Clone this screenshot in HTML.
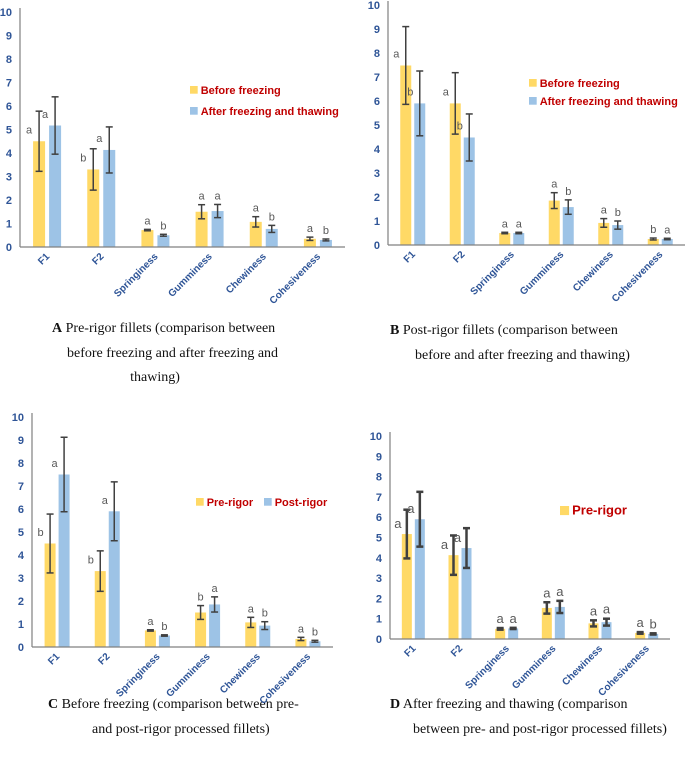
<!DOCTYPE html>
<html><head><meta charset="utf-8">
<style>
body{margin:0;background:#fff;width:685px;height:767px;overflow:hidden}
svg{display:block}
.cap{font-family:"Liberation Serif",serif;font-size:14px;fill:#111}
</style></head>
<body>
<svg id="fig" width="685" height="767" viewBox="0 0 685 767">
<g>
<text class="cap" x="52" y="332"><tspan font-weight="bold">A</tspan> Pre-rigor fillets (comparison between</text>
<text class="cap" x="67" y="357">before freezing and after freezing and</text>
<text class="cap" x="155" y="381" text-anchor="middle">thawing)</text>
</g>
<g>
<text class="cap" x="390" y="334"><tspan font-weight="bold">B</tspan> Post-rigor fillets (comparison between</text>
<text class="cap" x="415" y="359">before and after freezing and thawing)</text>
</g>
<g>
<text class="cap" x="48" y="708"><tspan font-weight="bold">C</tspan> Before freezing (comparison between pre-</text>
<text class="cap" x="92" y="733">and post-rigor processed fillets)</text>
</g>
<g>
<text class="cap" x="390" y="708"><tspan font-weight="bold">D</tspan> After freezing and thawing (comparison</text>
<text class="cap" x="413" y="733">between pre- and post-rigor processed fillets)</text>
</g>
</svg>
<script>
const categories = ["F1","F2","Springiness","Gumminess","Chewiness","Cohesiveness"];
const yTicks = [0,1,2,3,4,5,6,7,8,9,10];

const aYellow = [4.5,3.3,0.72,1.5,1.07,0.35];
const aYellowErr = [1.28,0.88,0.03,0.3,0.22,0.07];
const aBlue = [5.17,4.13,0.5,1.53,0.77,0.3];
const aBlueErr = [1.22,0.98,0.04,0.28,0.15,0.04];
const aYellowLet = ["a","b","a","a","a","a"];
const aBlueLet = ["a","a","b","a","b","b"];

const bYellow = [7.48,5.9,0.5,1.85,0.92,0.25];
const bYellowErr = [1.62,1.28,0.03,0.33,0.18,0.04];
const bBlue = [5.9,4.48,0.5,1.58,0.83,0.25];
const bBlueErr = [1.35,0.98,0.03,0.3,0.17,0.03];
const bYellowLet = ["a","a","a","a","a","b"];
const bBlueLet = ["b","b","a","b","b","a"];

const cYellow = [4.5,3.3,0.72,1.5,1.07,0.35];
const cYellowErr = [1.28,0.88,0.03,0.3,0.22,0.07];
const cBlue = [7.5,5.9,0.5,1.85,0.93,0.25];
const cBlueErr = [1.62,1.28,0.03,0.33,0.17,0.04];
const cYellowLet = ["b","b","a","b","a","a"];
const cBlueLet = ["a","a","b","a","b","b"];

const dYellow = [5.17,4.13,0.5,1.53,0.77,0.3];
const dYellowErr = [1.2,0.97,0.04,0.28,0.15,0.04];
const dBlue = [5.9,4.48,0.52,1.58,0.83,0.25];
const dBlueErr = [1.35,0.98,0.03,0.3,0.17,0.03];
const dYellowLet = ["a","a","a","a","a","a"];
const dBlueLet = ["a","a","a","a","a","b"];

const NS="http://www.w3.org/2000/svg";
const svg=document.getElementById('fig');
function mk(tag,attrs,parent){const e=document.createElementNS(NS,tag);for(const k in attrs)e.setAttribute(k,attrs[k]);parent.appendChild(e);return e;}

function panel(p){
  const g=mk('g',{},svg);
  
  
  const y=v=>p.y0-(p.y0-p.y10)*v/10;
  const band=(p.xEnd-p.ax)/categories.length;
  const cx=i=>p.ax+band*(i+0.5);
  const ya=mk('line',{x1:p.ax,y1:p.y10-4,x2:p.ax,y2:p.y0,stroke:'#808080','stroke-width':1.2},g);
  
  
  yTicks.forEach(t=>{
    const tx=mk('text',{x:p.ax-8,y:y(t)+4,'text-anchor':'end','font-family':'Liberation Sans, sans-serif','font-size':p.fs,'font-weight':'bold',fill:'#2F5597'},g);
    tx.textContent=t;
    
    
  });
  const series=[[p.yv,p.ye,p.yl,'#FFD966',-1],[p.bv,p.be,p.bl,'#9DC3E6',1]];
  categories.forEach((c,i)=>{
    series.forEach(([vals,errs,lets,col,side],si)=>{
      const v=vals[i],e=errs[i];
      const left = side<0 ? cx(i)-p.gap/2-p.bw : cx(i)+p.gap/2;
      const r=mk('rect',{x:left,y:y(v),width:p.bw,height:p.y0-y(v),fill:col},g);
      
      
      const mx=left+p.bw/2;
      const eg=mk('g',{stroke:'#404040','stroke-width':p.ew},g);
      
      
      mk('line',{x1:mx,x2:mx,y1:y(v+e),y2:y(v-e)},eg);
      mk('line',{x1:mx-3.5,x2:mx+3.5,y1:y(v+e),y2:y(v+e)},eg);
      mk('line',{x1:mx-3.5,x2:mx+3.5,y1:y(v-e),y2:y(v-e)},eg);
      let lx,ly;
      if(i<2){lx=left-4;ly=y(v+0.5)+4;}
      else{lx=mx;ly=y(v+e)-5;}
      const lt=mk('text',{x:lx,y:ly,'text-anchor':'middle','font-family':'Liberation Sans, sans-serif','font-size':p.lfs,fill:'#595959'},g);
      lt.textContent=lets[i];
      
      
    });
    const xl=mk('text',{x:cx(i)+3,y:p.y0+10,'text-anchor':'end','font-family':'Liberation Sans, sans-serif','font-size':p.xfs,'font-weight':'bold',fill:'#2F5597',transform:`rotate(-45 ${cx(i)+3} ${p.y0+10})`},g);
    xl.textContent=c;
    
    
  });
  const xa=mk('line',{x1:p.ax,y1:p.y0,x2:p.xEnd,y2:p.y0,stroke:'#808080','stroke-width':1.2},g);
  
  
  p.legend.forEach(([lx,ly,label,col,fs])=>{
    const lg=mk('g',{},g);
    
    
    mk('rect',{x:lx,y:ly-4,width:fs*0.7,height:fs*0.7,fill:col},lg);
    const t=mk('text',{x:lx+fs*0.7+3,y:ly+fs*0.35,'font-family':'Liberation Sans, sans-serif','font-size':fs,'font-weight':'bold',fill:'#C00000'},lg);
    t.textContent=label;
  });
}
panel({id:'a',ax:20,xEnd:345,y0:247,y10:12,bw:12,gap:4,ew:1.5,fs:11,xfs:10,lfs:11,
  yv:aYellow,ye:aYellowErr,bv:aBlue,be:aBlueErr,yl:aYellowLet,bl:aBlueLet,
  legend:[[190,90,'Before freezing','#FFD966',11],[190,111,'After freezing and thawing','#9DC3E6',11]]});
panel({id:'b',ax:388,xEnd:685,y0:245,y10:5,bw:11,gap:3,ew:1.5,fs:11,xfs:10,lfs:11,
  yv:bYellow,ye:bYellowErr,bv:bBlue,be:bBlueErr,yl:bYellowLet,bl:bBlueLet,
  legend:[[529,83,'Before freezing','#FFD966',11],[529,101,'After freezing and thawing','#9DC3E6',11]]});
panel({id:'c',ax:32,xEnd:333,y0:647,y10:417,bw:11,gap:3,ew:1.5,fs:11,xfs:10,lfs:11,
  yv:cYellow,ye:cYellowErr,bv:cBlue,be:cBlueErr,yl:cYellowLet,bl:cBlueLet,
  legend:[[196,502,'Pre-rigor','#FFD966',11],[264,502,'Post-rigor','#9DC3E6',11]]});
panel({id:'d',ax:390,xEnd:670,y0:639,y10:436,bw:10,gap:3,ew:2.5,fs:11,xfs:10,lfs:13,
  yv:dYellow,ye:dYellowErr,bv:dBlue,be:dBlueErr,yl:dYellowLet,bl:dBlueLet,
  legend:[[560,510,'Pre-rigor','#FFD966',13]]});
</script>
</body></html>
